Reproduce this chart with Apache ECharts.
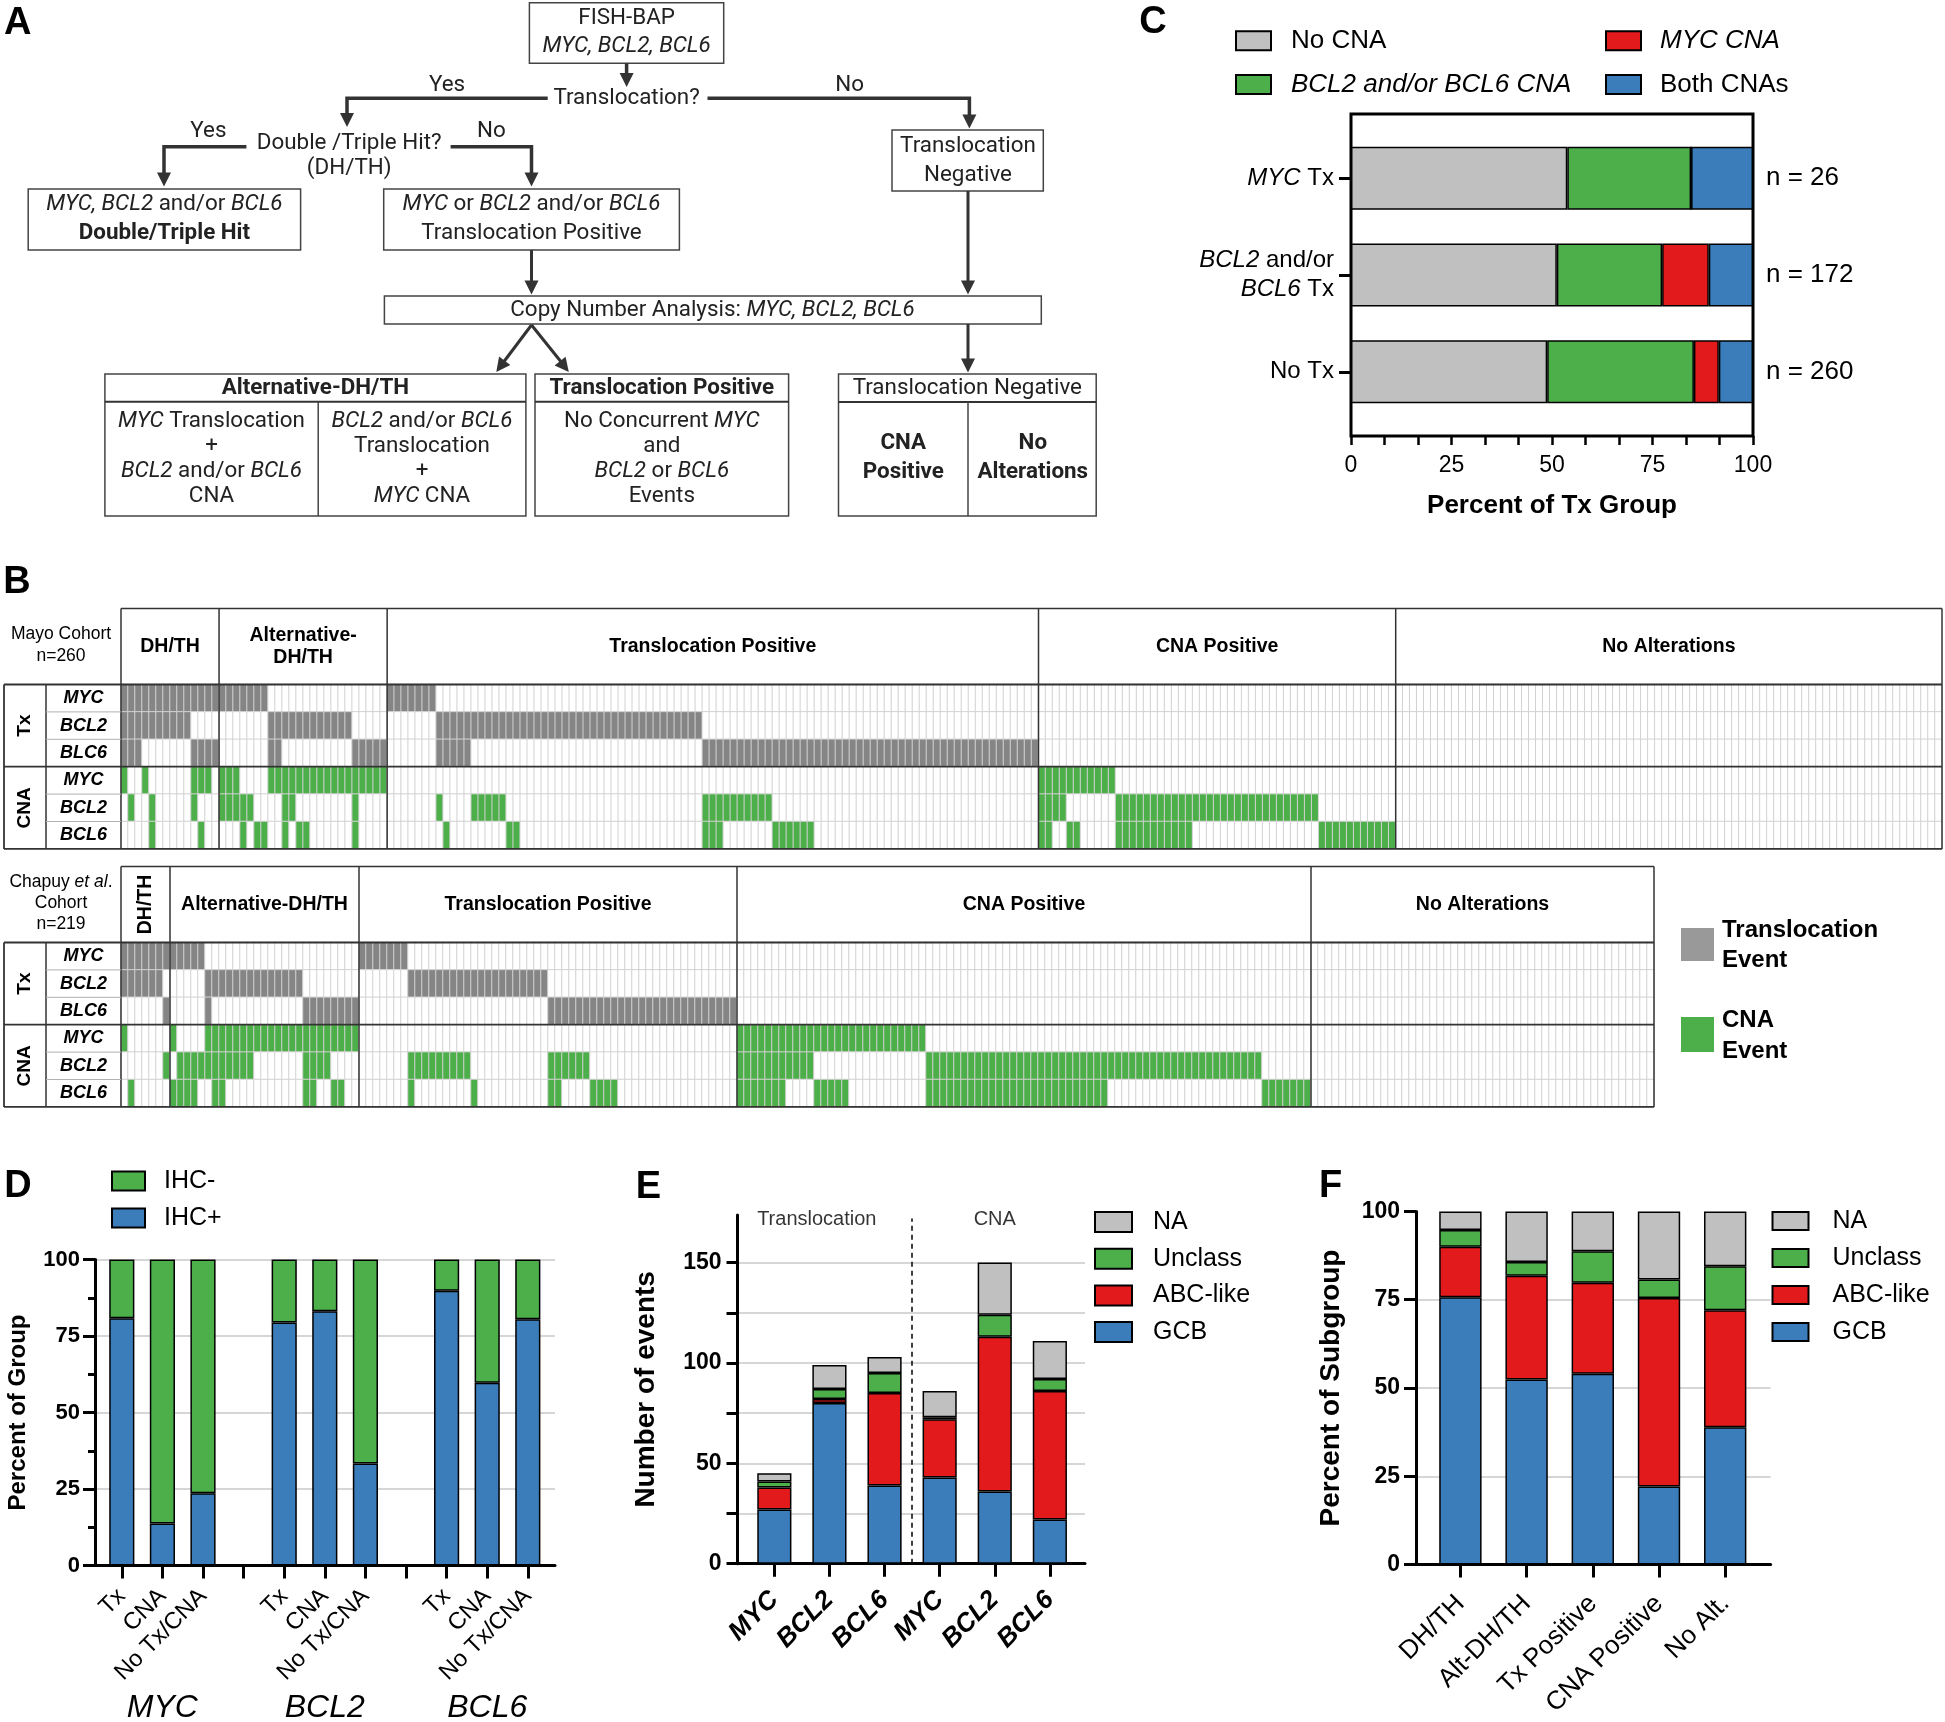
<!DOCTYPE html>
<html>
<head>
<meta charset="utf-8">
<script src="https://cdn.jsdelivr.net/npm/echarts@6/dist/echarts.min.js"></script>
<style>
html,body{margin:0;padding:0;background:#ffffff;}
#chart{width:1945px;height:1722px;}
</style>
</head>
<body>
<div id="chart"></div>
<script>
// ================= DATA =================
// Panel C: percent of each translocation group
const cCategories = ['MYC Tx', 'BCL2 and/or BCL6 Tx', 'No Tx'];
const cCounts = ['n = 26', 'n = 172', 'n = 260'];
const cNoCNA = [53.8, 51.2, 48.8];
const cBcl2Bcl6CNA = [30.8, 26.2, 36.5];
const cMycCNA = [0, 11.6, 6.2];
const cBothCNA = [15.4, 11.0, 8.5];

// Panel D: IHC positivity by group
const dCategories = ['Tx', 'CNA', 'No Tx/CNA', '', 'Tx', 'CNA', 'No Tx/CNA', '', 'Tx', 'CNA', 'No Tx/CNA'];
const dGenes = ['MYC', 'BCL2', 'BCL6'];
const dGeneIndex = [1, 5, 9];
const dIHCpos = [80.8, 13.7, 23.6, '-', 79.4, 83.1, 33.3, '-', 89.8, 59.7, 80.5];
const dIHCneg = [19.2, 86.3, 76.4, '-', 20.6, 16.9, 66.7, '-', 10.2, 40.3, 19.5];

// Panel E: number of events by cell of origin
const eCategories = ['MYC', 'BCL2', 'BCL6', 'MYC', 'BCL2', 'BCL6'];
const eGroups = ['Translocation', 'CNA'];
const eGCB = [27, 80, 39, 43, 36, 22];
const eABC = [11, 2, 46, 29, 77, 64];
const eUnclass = [3, 5, 10, 1, 11, 6];
const eNA = [4, 12, 8, 13, 26, 19];

// Panel F: percent of subgroup by cell of origin
const fCategories = ['DH/TH', 'Alt-DH/TH', 'Tx Positive', 'CNA Positive', 'No Alt.'];
const fGCB = [75.7, 52.4, 54.0, 22.1, 38.9];
const fABC = [14.3, 29.4, 25.8, 53.4, 33.1];
const fUnclass = [4.7, 3.9, 8.9, 5.2, 12.5];
const fNA = [5.3, 14.3, 11.3, 19.3, 15.5];

// Panel B: patient-level events (runs of patient column indices, inclusive)
const bRows = ['MYC', 'BCL2', 'BLC6', 'MYC', 'BCL2', 'BCL6'];
const mayoN = 260;
const mayoSections = ['DH/TH', 'Alternative-\nDH/TH', 'Translocation Positive', 'CNA Positive', 'No Alterations'];
const mayoSectionSizes = [14, 24, 93, 51, 78];
const mayoTx = [
  [[0, 20], [38, 44]],
  [[0, 9], [21, 32], [45, 82]],
  [[0, 2], [10, 13], [21, 22], [33, 37], [45, 49], [83, 130]]
];
const mayoCNA = [
  [[0, 0], [3, 3], [10, 12], [14, 16], [21, 37], [131, 141]],
  [[1, 1], [4, 4], [10, 10], [14, 18], [23, 24], [33, 33], [45, 45], [50, 54], [83, 92], [131, 134], [142, 170]],
  [[4, 4], [11, 11], [17, 17], [19, 20], [23, 23], [25, 26], [33, 33], [46, 46], [55, 56], [83, 85], [93, 98], [131, 132], [135, 136], [142, 152], [171, 181]]
];
const chapuyN = 219;
const chapuySections = ['DH/TH', 'Alternative-DH/TH', 'Translocation Positive', 'CNA Positive', 'No Alterations'];
const chapuySectionSizes = [7, 27, 54, 82, 49];
const chapuyTx = [
  [[0, 11], [34, 40]],
  [[0, 5], [12, 25], [41, 60]],
  [[6, 6], [12, 12], [26, 33], [61, 87]]
];
const chapuyCNA = [
  [[0, 0], [7, 7], [12, 33], [88, 114]],
  [[6, 6], [8, 18], [26, 29], [41, 49], [61, 66], [88, 98], [115, 162]],
  [[1, 1], [7, 10], [13, 14], [26, 27], [30, 31], [41, 41], [50, 50], [61, 62], [67, 70], [88, 94], [99, 103], [115, 140], [163, 169]]
];

// ================= STYLE / LAYOUT =================
const FONT = "'Liberation Sans', Arial, Helvetica, sans-serif";
const FA = "Roboto, 'Liberation Sans', sans-serif";
const COL = { gray: '#c0c0c0', green: '#4caf4a', red: '#e31a1c', blue: '#3a7dba', tx: '#858585', cna: '#4daf4a' };
const GRID = {
  cFrame: { left: 1351, top: 114, width: 402, height: 322 },
  cBars: { left: 1351, top: 129.8, width: 402, height: 290.4 },
  dFrame: { left: 95, top: 1259.5, width: 460, height: 306 },
  dBars: { left: 101.5, top: 1259.5, width: 446.6, height: 306 },
  eFrame: { left: 737.5, top: 1215, width: 347.5, height: 348.7 },
  eBars: { left: 746.8, top: 1262.6, width: 330.6, height: 301.1 },
  fFrame: { left: 1416, top: 1211.4, width: 354.6, height: 353.2 },
  fBars: { left: 1427.3, top: 1211.4, width: 331, height: 353.2 },
  mayo: { left: 121, top: 684.5, width: 1821, height: 164.4 },
  chapuy: { left: 121, top: 942.5, width: 1533, height: 164.4 }
};
const eGroupLabelX = [0.77, 4];

// ================= HELPERS =================
function buildHeat(n, txRuns, cnaRuns) {
  const data = [];
  const rows = txRuns.map(r => [r, 1]).concat(cnaRuns.map(r => [r, 2]));
  rows.forEach(([runs, val], ri) => {
    for (let c = 0; c < n; c++) {
      const hit = runs.some(([a, b]) => c >= a && c <= b);
      data.push([c, ri, hit ? val : 0]);
    }
  });
  return data;
}
const G = [];
function R(x1, y1, x2, y2, o = {}) {
  G.push({ type: 'rect', z: 100, silent: true, shape: { x: x1, y: y1, width: x2 - x1, height: y2 - y1 },
    style: { fill: o.fill || 'none', stroke: o.stroke === undefined ? '#444' : o.stroke, lineWidth: o.lw || 1.5 } });
}
function L(pts, o = {}) {
  G.push({ type: 'polyline', z: 100, silent: true, shape: { points: pts },
    style: { fill: 'none', stroke: o.stroke || '#333', lineWidth: o.lw || 1.5 } });
}
function AH(x, y, dx, dy) {
  const len = Math.hypot(dx, dy), ux = dx / len, uy = dy / len, Ln = 14, W = 7;
  const bx = x - ux * Ln, by = y - uy * Ln;
  G.push({ type: 'polygon', z: 100, silent: true,
    shape: { points: [[x, y], [bx - uy * W, by + ux * W], [bx + uy * W, by - ux * W]] }, style: { fill: '#333' } });
}
function T(x, y, text, o = {}) {
  const ff = o.ff || FONT, fs = o.fs || 20, fill = o.fill || '#000';
  const st = { text: text, fill: fill, fontSize: fs, fontFamily: ff, fontWeight: o.fw || 'normal',
    fontStyle: o.fst || 'normal', align: o.align || 'center', verticalAlign: 'middle' };
  if (o.lh) st.lineHeight = o.lh;
  st.rich = {
    i: { fontStyle: 'italic', fontSize: fs, fontFamily: ff, fill: fill, fontWeight: o.fw || 'normal' },
    b: { fontWeight: 'bold', fontSize: fs, fontFamily: ff, fill: fill }
  };
  G.push({ type: 'text', z: 101, silent: true, x: x, y: y, rotation: o.rot || 0, style: st });
}

// ----- Panel letters -----
T(17.6, 24, 'A', { fs: 38, fw: 'bold' });
T(1153, 23, 'C', { fs: 38, fw: 'bold' });
T(17, 583, 'B', { fs: 38, fw: 'bold' });
T(18, 1187, 'D', { fs: 38, fw: 'bold' });
T(648.5, 1188, 'E', { fs: 38, fw: 'bold' });
T(1330.5, 1187, 'F', { fs: 38, fw: 'bold' });

// ----- Panel A flowchart -----
const A = { ff: FA, fs: 22.4, fill: '#222' };
const Ai = Object.assign({}, A, { fst: 'italic' });
const Ab = Object.assign({}, A, { fw: 'bold' });
R(529.4, 2.7, 723.7, 63.3);
T(626.6, 18.5, 'FISH-BAP', A);
T(626.6, 46.5, 'MYC, BCL2, BCL6', Ai);
L([[626.6, 63.3], [626.6, 76]], { lw: 3.5 }); AH(626.6, 87, 0, 1);
T(626.6, 98.3, 'Translocation?', A);
L([[547.7, 98.3], [347, 98.3], [347, 116]], { lw: 3.5 }); AH(347, 127, 0, 1);
L([[707.5, 98.3], [969.4, 98.3], [969.4, 117]], { lw: 3.5 }); AH(969.4, 128.5, 0, 1);
T(447, 85, 'Yes', A); T(849.7, 85, 'No', A);
R(892, 130, 1043.3, 191);
T(968, 146, 'Translocation', A); T(968, 175, 'Negative', A);
T(349.2, 143.3, 'Double /Triple Hit?', A); T(349.2, 168.3, '(DH/TH)', A);
L([[246.4, 146.7], [164, 146.7], [164, 175]], { lw: 3.5 }); AH(164, 186.5, 0, 1);
L([[450.6, 146.7], [531.5, 146.7], [531.5, 175]], { lw: 3.5 }); AH(531.5, 186.5, 0, 1);
T(208.4, 131.7, 'Yes', A); T(491.4, 131.7, 'No', A);
R(28.2, 189, 300.6, 250);
T(164.4, 204, '{i|MYC, BCL2} and/or {i|BCL6}', A);
T(164.4, 233.3, 'Double/Triple Hit', Ab);
R(383.7, 189, 679.4, 250);
T(531.5, 204, '{i|MYC} or {i|BCL2} and/or {i|BCL6}', A);
T(531.5, 233.3, 'Translocation Positive', A);
L([[531.5, 250], [531.5, 283]], { lw: 3 }); AH(531.5, 294.5, 0, 1);
L([[968, 191], [968, 283]], { lw: 3 }); AH(968, 294.5, 0, 1);
R(384.4, 296, 1041.3, 324);
T(712.5, 310, 'Copy Number Analysis: {i|MYC, BCL2, BCL6}', A);
L([[531.5, 325], [501, 365.5]], { lw: 3 }); AH(496.3, 372, -35.2, 47);
L([[531.5, 325], [564, 365.5]], { lw: 3 }); AH(568.8, 372, 37.3, 47);
L([[968, 324], [968, 361]], { lw: 3 }); AH(968, 372.5, 0, 1);
R(104.9, 374, 525.9, 516); L([[104.9, 401.7], [525.9, 401.7]], { lw: 2 }); L([[318.2, 401.7], [318.2, 516]], { stroke: '#444' });
T(315.4, 388.3, 'Alternative-DH/TH', Ab);
T(211.5, 421.7, '{i|MYC} Translocation', A); T(211.5, 446.7, '+', A);
T(211.5, 471.7, '{i|BCL2} and/or {i|BCL6}', A); T(211.5, 496.7, 'CNA', A);
T(422, 421.7, '{i|BCL2} and/or {i|BCL6}', A); T(422, 446.7, 'Translocation', A);
T(422, 471.7, '+', A); T(422, 496.7, '{i|MYC} CNA', A);
R(535, 374, 788.6, 516); L([[535, 401.7], [788.6, 401.7]], { lw: 2 });
T(661.8, 388.3, 'Translocation Positive', Ab);
T(661.8, 421.7, 'No Concurrent {i|MYC}', A); T(661.8, 446.7, 'and', A);
T(661.8, 471.7, '{i|BCL2} or {i|BCL6}', A); T(661.8, 496.7, 'Events', A);
R(838.5, 374, 1096.2, 516); L([[838.5, 402], [1096.2, 402]], { lw: 2 }); L([[968, 402], [968, 516]], { stroke: '#444' });
T(967.3, 388.3, 'Translocation Negative', A);
T(903.3, 443.3, 'CNA', Ab); T(903.3, 472.7, 'Positive', Ab);
T(1032.8, 443.3, 'No', Ab); T(1032.8, 472.7, 'Alterations', Ab);

// ----- Panel B table frame -----
function cohort(c) {
  const g = c.grid, colW = g.width / c.n, right = g.left + g.width, rowH = g.height / 6;
  const bottom = g.top + g.height, mid = (c.headTop + g.top) / 2, dark = '#333';
  L([[g.left, c.headTop], [right, c.headTop]], { lw: 1.5, stroke: dark });
  L([[g.left, c.headTop], [g.left, bottom]], { lw: 1.5, stroke: dark });
  let cum = 0;
  c.sizes.forEach((s, i) => {
    const x0 = g.left + cum * colW; cum += s; const x1 = g.left + cum * colW;
    L([[x1, c.headTop], [x1, bottom]], { lw: 1.5, stroke: dark });
    if (c.rotFirst && i === 0) T((x0 + x1) / 2, mid, c.names[i], { fs: 19.5, fw: 'bold', rot: Math.PI / 2 });
    else T((x0 + x1) / 2, mid, c.names[i], { fs: 19.5, fw: 'bold', lh: 22 });
  });
  [0, 3, 6].forEach(k => L([[4, g.top + k * rowH], [right, g.top + k * rowH]], { lw: 1.8, stroke: dark }));
  L([[4, g.top], [4, bottom]], { lw: 1.8, stroke: dark });
  L([[46, g.top], [46, bottom]], { lw: 1.5, stroke: dark });
  [1, 2, 4, 5].forEach(k => L([[46, g.top + k * rowH], [g.left, g.top + k * rowH]], { lw: 1, stroke: '#b0b0b0' }));
  T(25, g.top + 1.5 * rowH, 'Tx', { fs: 19, fw: 'bold', rot: Math.PI / 2 });
  T(25, g.top + 4.5 * rowH, 'CNA', { fs: 19, fw: 'bold', rot: Math.PI / 2 });
}
cohort({ grid: GRID.mayo, n: mayoN, headTop: 608.4, names: mayoSections, sizes: mayoSectionSizes, rotFirst: false });
cohort({ grid: GRID.chapuy, n: chapuyN, headTop: 866.4, names: chapuySections, sizes: chapuySectionSizes, rotFirst: true });
T(61, 634, 'Mayo Cohort', { fs: 17.5 });
T(61, 656, 'n=' + mayoN, { fs: 17.5 });
T(61, 882, 'Chapuy {i|et al}.', { fs: 17.5 });
T(61, 903, 'Cohort', { fs: 17.5 });
T(61, 924, 'n=' + chapuyN, { fs: 17.5 });
// Panel B legend
R(1681, 928, 1714, 961, { fill: '#999999', stroke: 'none' });
T(1722, 930, 'Translocation', { fs: 24, fw: 'bold', align: 'left' });
T(1722, 960, 'Event', { fs: 24, fw: 'bold', align: 'left' });
R(1681, 1017, 1714, 1052, { fill: COL.cna, stroke: 'none' });
T(1722, 1020, 'CNA', { fs: 24, fw: 'bold', align: 'left' });
T(1722, 1051, 'Event', { fs: 24, fw: 'bold', align: 'left' });

// Panel D gene labels
dGeneIndex.forEach((idx, k) => {
  const band = GRID.dBars.width / dCategories.length;
  T(GRID.dBars.left + (idx + 0.5) * band, 1708, dGenes[k], { fs: 32, fst: 'italic' });
});

// ================= OPTION =================
const blk = w => ({ color: '#000', width: w });
const border = { borderColor: '#000', borderWidth: 1.5 };
function frameX(gi, min, max) {
  return { gridIndex: gi, type: 'value', min: min, max: max,
    axisLine: { show: true, onZero: false, lineStyle: blk(3) }, axisTick: { show: false },
    axisLabel: { show: false }, splitLine: { show: false } };
}
function frameY(gi, max, name, gap, fs, opts) {
  return Object.assign({ gridIndex: gi, type: 'value', min: 0, max: max, interval: 25,
    axisLine: { show: true, onZero: false, lineStyle: blk(3) },
    axisTick: { show: true, length: 12, lineStyle: blk(3) },
    axisLabel: { fontSize: 22, fontWeight: 'bold', color: '#000', fontFamily: FONT, margin: 15 },
    splitLine: { show: true, lineStyle: { color: '#c8c8c8', width: 1.5 } },
    name: name, nameLocation: 'middle', nameGap: gap,
    nameTextStyle: { fontSize: fs, fontWeight: 'bold', color: '#000', fontFamily: FONT } }, opts || {});
}
function catX(gi, data, label) {
  return { gridIndex: gi, type: 'category', data: data, axisLine: { show: false },
    axisTick: { show: true, alignWithLabel: true, interval: 0, length: 13, lineStyle: blk(3) },
    axisLabel: Object.assign({ interval: 0, rotate: 45, color: '#000', fontFamily: FONT, margin: 14 }, label) };
}
const hidden = (gi, type, extra) => Object.assign({ gridIndex: gi, type: type, show: false }, extra || {});
const legendBase = (left, top, iw, ih, gap, fs, pad, data) => ({
  left: left, top: top, orient: 'vertical', padding: 0, icon: 'rect', itemWidth: iw, itemHeight: ih,
  itemGap: gap, selectedMode: false,
  textStyle: { fontSize: fs, fontFamily: FONT, color: '#000', lineHeight: fs, padding: [0, 0, 0, pad] }, data: data });

const grids = [GRID.cFrame, GRID.cBars, GRID.dFrame, GRID.dBars, GRID.eFrame, GRID.eBars, GRID.fFrame, GRID.fBars, GRID.mayo, GRID.chapuy]
  .map(g => Object.assign({ outerBoundsMode: 'none', containLabel: false }, g));
grids[0] = Object.assign({}, grids[0], { show: true, borderColor: '#000', borderWidth: 3, backgroundColor: 'transparent' });

const cLabelMap = { 'MYC Tx': '{i|MYC} Tx', 'BCL2 and/or BCL6 Tx': '{i|BCL2} and/or\n{i|BCL6} Tx', 'No Tx': 'No Tx' };

const option = {
  animation: false,
  backgroundColor: '#ffffff',
  textStyle: { fontFamily: FONT },
  grid: grids,
  xAxis: [
    { gridIndex: 0, type: 'value', min: 0, max: 100, interval: 25, axisLine: { show: false },
      axisTick: { show: true, length: 9, lineStyle: blk(2.5) },
      minorTick: { show: true, splitNumber: 3, length: 9, lineStyle: blk(2.5) },
      splitLine: { show: false }, minorSplitLine: { show: false },
      axisLabel: { fontSize: 23, color: '#000', fontFamily: FONT, margin: 18 },
      name: 'Percent of Tx Group', nameLocation: 'middle', nameGap: 57,
      nameTextStyle: { fontSize: 26, fontWeight: 'bold', color: '#000', fontFamily: FONT } },
    hidden(1, 'value', { min: 0, max: 100 }),
    frameX(2, 0, 1),
    catX(3, dCategories, { fontSize: 23.5, margin: 27 }),
    frameX(4, -0.669, 5.638),
    catX(5, eCategories, { fontSize: 26, fontWeight: 'bold', fontStyle: 'italic', margin: 32 }),
    frameX(6, 0, 1),
    catX(7, fCategories, { fontSize: 26, margin: 35 }),
    hidden(8, 'category', { data: Array.from({ length: mayoN }, (_, i) => String(i)) }),
    hidden(9, 'category', { data: Array.from({ length: chapuyN }, (_, i) => String(i)) })
  ],
  yAxis: [
    hidden(0, 'value', { min: 0, max: 1 }),
    { gridIndex: 1, type: 'category', inverse: true, data: cCategories, axisLine: { show: false },
      axisTick: { show: true, alignWithLabel: true, length: 12, lineStyle: blk(3) },
      axisLabel: { formatter: v => cLabelMap[v], fontSize: 24, color: '#000', fontFamily: FONT, lineHeight: 29, margin: 17,
        rich: { i: { fontStyle: 'italic', fontSize: 24, color: '#000', fontFamily: FONT, lineHeight: 29 } } } },
    frameY(2, 100, 'Percent of Group', 65, 24, {
      minorTick: { show: true, splitNumber: 2, length: 7, lineStyle: blk(3) }, minorSplitLine: { show: false } }),
    hidden(3, 'value', { min: 0, max: 100 }),
    frameY(4, 173.7, 'Number of events', 77, 28, {
      axisLabel: { fontSize: 23, fontWeight: 'bold', color: '#000', fontFamily: FONT, margin: 16, showMaxLabel: false,
        formatter: v => (v % 50 === 0 ? String(v) : '') },
      axisTick: { show: true, length: 11, lineStyle: blk(3) },
      splitLine: { show: true, showMaxLine: false, showMinLine: false, lineStyle: { color: '#c8c8c8', width: 1.5 } } }),
    hidden(5, 'value', { min: 0, max: 150 }),
    frameY(6, 100, 'Percent of Subgroup', 71, 28, {
      axisLabel: { fontSize: 23, fontWeight: 'bold', color: '#000', fontFamily: FONT, margin: 16 },
      splitLine: { show: true, showMaxLine: false, showMinLine: false, lineStyle: { color: '#c8c8c8', width: 1.5 } } }),
    hidden(7, 'value', { min: 0, max: 100 }),
    { gridIndex: 8, type: 'category', inverse: true, data: bRows, axisLine: { show: false }, axisTick: { show: false },
      axisLabel: { fontSize: 18, fontWeight: 'bold', fontStyle: 'italic', color: '#000', fontFamily: FONT, align: 'center', margin: 37.5 } },
    { gridIndex: 9, type: 'category', inverse: true, data: bRows, axisLine: { show: false }, axisTick: { show: false },
      axisLabel: { fontSize: 18, fontWeight: 'bold', fontStyle: 'italic', color: '#000', fontFamily: FONT, align: 'center', margin: 37.5 } },
    { gridIndex: 1, type: 'category', position: 'right', inverse: true, data: cCounts, axisLine: { show: false },
      axisTick: { show: false }, axisLabel: { fontSize: 26, color: '#000', fontFamily: FONT, margin: 13 } }
  ],
  legend: [
    legendBase(1235, 27.8, 35, 19, 17.7, 26, 15, [{ name: 'No CNA' }, { name: 'BCL2 and/or BCL6 CNA', textStyle: { fontStyle: 'italic' } }]),
    legendBase(1605, 27.8, 35, 19, 17.7, 26, 14, [{ name: 'MYC CNA', textStyle: { fontStyle: 'italic' } }, { name: 'Both CNAs' }]),
    legendBase(111, 1168.5, 33, 19, 12, 25, 14, ['IHC-', 'IHC+']),
    legendBase(1094, 1209.5, 37, 20, 11.7, 25, 16, ['NA', 'Unclass', 'ABC-like', 'GCB']),
    legendBase(1771.5, 1208.5, 36, 18, 12, 25, 19, ['NA', 'Unclass', 'ABC-like', 'GCB'])
  ],
  visualMap: {
    type: 'piecewise', show: false, dimension: 2, seriesIndex: [16, 17],
    pieces: [{ value: 0, color: '#ffffff' }, { value: 1, color: COL.tx }, { value: 2, color: COL.cna }]
  },
  series: [
    // C (0-3)
    { name: 'No CNA', type: 'bar', xAxisIndex: 1, yAxisIndex: 1, stack: 'c', barWidth: '65%', data: cNoCNA, itemStyle: Object.assign({ color: COL.gray }, border) },
    { name: 'BCL2 and/or BCL6 CNA', type: 'bar', xAxisIndex: 1, yAxisIndex: 1, stack: 'c', barWidth: '65%', data: cBcl2Bcl6CNA, itemStyle: Object.assign({ color: COL.green }, border) },
    { name: 'MYC CNA', type: 'bar', xAxisIndex: 1, yAxisIndex: 1, stack: 'c', barWidth: '65%', data: cMycCNA, itemStyle: Object.assign({ color: COL.red }, border) },
    { name: 'Both CNAs', type: 'bar', xAxisIndex: 1, yAxisIndex: 1, stack: 'c', barWidth: '65%', data: cBothCNA, itemStyle: Object.assign({ color: COL.blue }, border) },
    // D (4-5)
    { name: 'IHC+', type: 'bar', xAxisIndex: 3, yAxisIndex: 3, stack: 'd', barWidth: '62%', data: dIHCpos, itemStyle: Object.assign({ color: COL.blue }, border) },
    { name: 'IHC-', type: 'bar', xAxisIndex: 3, yAxisIndex: 3, stack: 'd', barWidth: '62%', data: dIHCneg, itemStyle: Object.assign({ color: COL.green }, border) },
    // E (6-9)
    { name: 'GCB', type: 'bar', xAxisIndex: 5, yAxisIndex: 5, stack: 'e', barWidth: '62%', data: eGCB, itemStyle: Object.assign({ color: COL.blue }, border) },
    { name: 'ABC-like', type: 'bar', xAxisIndex: 5, yAxisIndex: 5, stack: 'e', barWidth: '62%', data: eABC, itemStyle: Object.assign({ color: COL.red }, border) },
    { name: 'Unclass', type: 'bar', xAxisIndex: 5, yAxisIndex: 5, stack: 'e', barWidth: '62%', data: eUnclass, itemStyle: Object.assign({ color: COL.green }, border) },
    { name: 'NA', type: 'bar', xAxisIndex: 5, yAxisIndex: 5, stack: 'e', barWidth: '62%', data: eNA, itemStyle: Object.assign({ color: COL.gray }, border) },
    // E annotations (10)
    { name: 'annot', type: 'scatter', xAxisIndex: 4, yAxisIndex: 4, symbol: 'circle', symbolSize: 1, silent: true,
      itemStyle: { color: 'rgba(0,0,0,0)' },
      data: eGroups.map((g, i) => [eGroupLabelX[i], 171.7]),
      label: { show: true, position: 'inside', formatter: p => eGroups[p.dataIndex], fontSize: 20, color: '#000', fontFamily: FONT },
      markLine: { silent: true, symbol: ['none', 'none'], label: { show: false },
        lineStyle: { type: [5, 4], color: '#000', width: 1.5 },
        data: [[{ coord: [2.5, 0] }, { coord: [2.5, 172] }]] } },
    // F (11-14)
    { name: 'GCB', type: 'bar', xAxisIndex: 7, yAxisIndex: 7, stack: 'f', barWidth: '64%', data: fGCB, itemStyle: Object.assign({ color: COL.blue }, border) },
    { name: 'ABC-like', type: 'bar', xAxisIndex: 7, yAxisIndex: 7, stack: 'f', barWidth: '64%', data: fABC, itemStyle: Object.assign({ color: COL.red }, border) },
    { name: 'Unclass', type: 'bar', xAxisIndex: 7, yAxisIndex: 7, stack: 'f', barWidth: '64%', data: fUnclass, itemStyle: Object.assign({ color: COL.green }, border) },
    { name: 'NA', type: 'bar', xAxisIndex: 7, yAxisIndex: 7, stack: 'f', barWidth: '64%', data: fNA, itemStyle: Object.assign({ color: COL.gray }, border) },
    // spacer to keep heatmap indices 16,17
    { name: 'spacer', type: 'scatter', xAxisIndex: 4, yAxisIndex: 4, data: [], silent: true },
    // B heatmaps (16-17)
    { name: 'Mayo', type: 'heatmap', xAxisIndex: 8, yAxisIndex: 8, silent: true, progressive: 0,
      data: buildHeat(mayoN, mayoTx, mayoCNA), itemStyle: { borderColor: '#d2d2d2', borderWidth: 1 }, emphasis: { disabled: true } },
    { name: 'Chapuy', type: 'heatmap', xAxisIndex: 9, yAxisIndex: 9, silent: true, progressive: 0,
      data: buildHeat(chapuyN, chapuyTx, chapuyCNA), itemStyle: { borderColor: '#d2d2d2', borderWidth: 1 }, emphasis: { disabled: true } }
  ],
  graphic: { elements: G }
};

const chart = echarts.init(document.getElementById('chart'), null, { renderer: 'canvas' });
chart.setOption(option);
</script>
</body>
</html>
